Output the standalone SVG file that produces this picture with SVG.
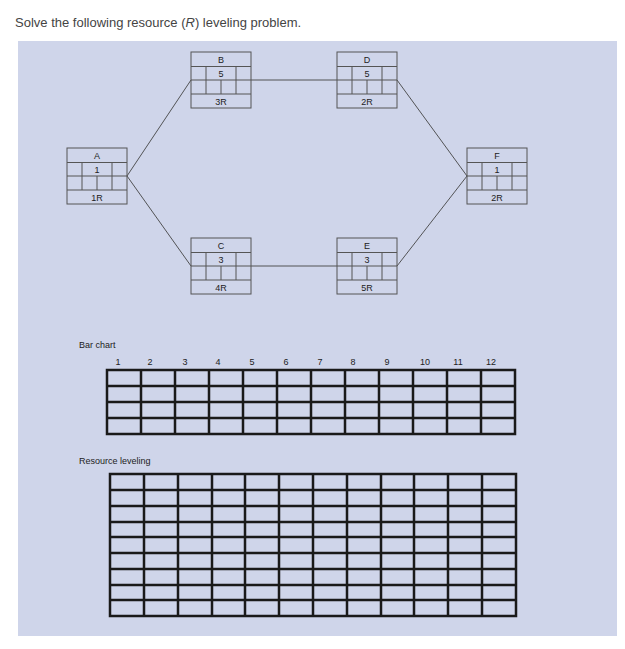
<svg xmlns="http://www.w3.org/2000/svg" width="625" height="649" viewBox="0 0 625 649">
<style>
text{font-family:"Liberation Sans",Arial,sans-serif;fill:#222}
.t{font-size:9px;text-anchor:middle}
.nb rect,.nb line{fill:none;stroke:#555;stroke-width:1}
.c line{stroke:#444;stroke-width:0.9}
.g{stroke:#1a1a1a;stroke-width:2.5;fill:none}
</style>
<defs>
<g id="node" class="nb">
<rect x="0" y="0" width="60" height="56" fill="#d3d8ec"/>
<line x1="0" y1="14.5" x2="60" y2="14.5"/>
<line x1="0" y1="28" x2="60" y2="28"/>
<line x1="0" y1="42" x2="60" y2="42"/>
<line x1="15" y1="14.5" x2="15" y2="42"/>
<line x1="45" y1="14.5" x2="45" y2="42"/>
<line x1="30" y1="28" x2="30" y2="42"/>
</g>
</defs>
<rect width="625" height="649" fill="#fff"/>
<text x="15" y="27" font-size="13" style="fill:#444">Solve the following resource (<tspan font-style="italic">R</tspan>) leveling problem.</text>
<rect x="18" y="41" width="599" height="595" fill="#cfd5ea"/>
<g class="c">
<line x1="127" y1="176" x2="191" y2="80"/>
<line x1="251" y1="80" x2="337" y2="80"/>
<line x1="397" y1="80" x2="467" y2="176"/>
<line x1="127" y1="176" x2="191" y2="266"/>
<line x1="251" y1="266" x2="337" y2="266"/>
<line x1="397" y1="266" x2="467" y2="176"/>
</g>
<g id="A" transform="translate(67,148)"><use href="#node"/><text class="t" x="30" y="11">A</text><text class="t" x="30" y="25">1</text><text class="t" x="30" y="53">1R</text></g>
<g id="B" transform="translate(191,52)"><use href="#node"/><text class="t" x="30" y="11">B</text><text class="t" x="30" y="25">5</text><text class="t" x="30" y="53">3R</text></g>
<g id="D" transform="translate(337,52)"><use href="#node"/><text class="t" x="30" y="11">D</text><text class="t" x="30" y="25">5</text><text class="t" x="30" y="53">2R</text></g>
<g id="F" transform="translate(467,148)"><use href="#node"/><text class="t" x="30" y="11">F</text><text class="t" x="30" y="25">1</text><text class="t" x="30" y="53">2R</text></g>
<g id="C" transform="translate(191,238)"><use href="#node"/><text class="t" x="30" y="11">C</text><text class="t" x="30" y="25">3</text><text class="t" x="30" y="53">4R</text></g>
<g id="E" transform="translate(337,238)"><use href="#node"/><text class="t" x="30" y="11">E</text><text class="t" x="30" y="25">3</text><text class="t" x="30" y="53">5R</text></g>
<g id="barchart">
<text x="79" y="348" font-size="9">Bar chart</text>
<g font-size="9" text-anchor="middle">
<text x="118" y="365">1</text><text x="150" y="365">2</text><text x="185" y="365">3</text><text x="218" y="365">4</text><text x="252" y="365">5</text><text x="286" y="365">6</text><text x="320" y="365">7</text><text x="353" y="365">8</text><text x="387" y="365">9</text><text x="425" y="365">10</text><text x="458" y="365">11</text><text x="491" y="365">12</text>
</g>
<path class="g" d="M107 370H515V434H107Z M107 386H515 M107 402H515 M107 418H515 M141 370V434 M175 370V434 M209 370V434 M243 370V434 M277 370V434 M311 370V434 M345 370V434 M379 370V434 M413 370V434 M447 370V434 M481 370V434"/>
</g>
<g id="resource">
<text x="79" y="464" font-size="9">Resource leveling</text>
<path class="g" d="M110 474H516V616H110Z M110 490H516 M110 506H516 M110 522H516 M110 537H516 M110 553H516 M110 569H516 M110 585H516 M110 600H516 M144 474V616 M178 474V616 M212 474V616 M245 474V616 M279 474V616 M313 474V616 M347 474V616 M381 474V616 M414 474V616 M448 474V616 M482 474V616"/>
</g>
</svg>
